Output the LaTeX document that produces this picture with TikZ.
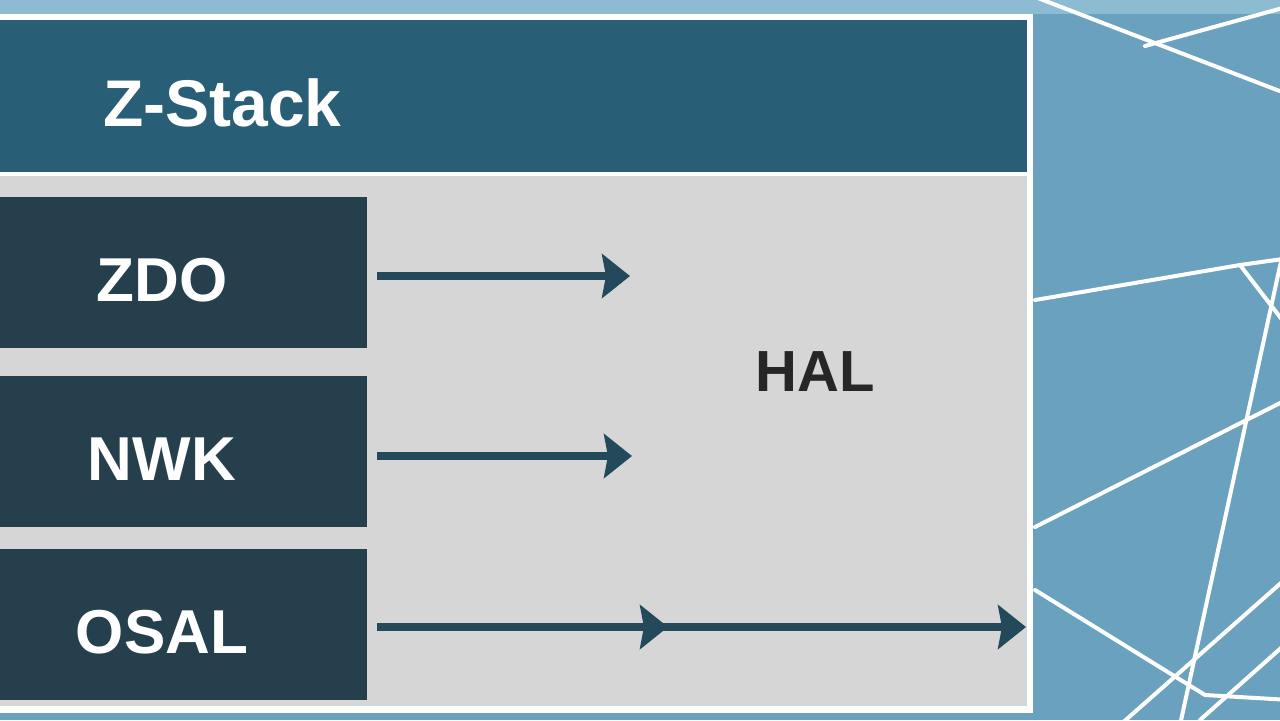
\documentclass[tikz,border=0pt]{standalone}
\usepackage{fontspec}
\setmainfont{Liberation Sans}
\usepackage{tikz}
\usetikzlibrary{arrows.meta,positioning}
\definecolor{skyblue}{HTML}{6AA1BE}
\definecolor{skytop}{HTML}{8DBBD1}
\definecolor{headblue}{HTML}{285E76}
\definecolor{layerblue}{HTML}{263F4C}
\definecolor{arrowblue}{HTML}{24495B}
\definecolor{panelgray}{HTML}{D6D6D6}
\tikzset{layer/.style={fill=layerblue,text=white,inner sep=0pt,
                       minimum width=205pt,minimum height=75.5pt,
                       font=\fontsize{31}{34}\selectfont\bfseries}}
\tikzset{net/.style={white,line width=2pt,line cap=round}}
% text sits a little below the middle of each layer box
\newcommand{\lowered}[1]{\raisebox{-14.5pt}[0pt][0pt]{#1}}

\begin{document}
\begin{tikzpicture}[x=0.5pt,y=-0.5pt,
      % styles for clarity
      flow/.style ={arrowblue,line width=4pt,
                    -{Stealth[length=14pt,width=22pt,inset=2pt]}},
      title/.style={text=white,font=\fontsize{33}{36}\selectfont\bfseries},
      hal/.style  ={text=black!85,font=\fontsize{29}{32}\selectfont\bfseries}
    ]
    \useasboundingbox (0,0) rectangle (1280,720);
    \clip (0,0) rectangle (1280,720);

    % sky background with the network lines
    \fill[skyblue] (0,0) rectangle (1280,720);
    \fill[skytop] (0,0) rectangle (1280,14);
    \draw[net] (1030,-5) -- (1290,95);
    \draw[net] (1145,46) -- (1290,6);
    \draw[net] (1035,300) -- (1240,265) -- (1290,258);
    \draw[net] (1240,265) -- (1290,330);
    \draw[net] (1180,725) -- (1290,220);
    \draw[net] (1035,527) -- (1290,398);
    \draw[net] (1035,590) -- (1205,695) -- (1290,700);
    \draw[net] (1200,720) -- (1290,640);
    \draw[net] (1120,725) -- (1290,575);

    % panel: white frame, header bar and gray body
    \fill[white] (-10,14) rectangle (1033,713);
    \fill[headblue] (-10,20) rectangle (1027,172);
    \fill[panelgray] (-10,176) rectangle (1027,706);
    \node[title,anchor=west] (zstack) at (96,103) {Z-Stack};

    % stack layers (boxes run off the left edge)
    \node[layer] (zdo)  at (162,272.5) {\lowered{ZDO}};
    \node[layer] (nwk)  at (162,451.5) {\lowered{NWK}};
    \node[layer] (osal) at (162,624.5) {\lowered{OSAL}};
    \node[hal] (hal) at (815,372) {HAL};

    % arrow ends
    \coordinate (zdoend)  at (630,276);
    \coordinate (nwkend)  at (632,456);
    \coordinate (osalmid) at (668,627);
    \coordinate (osalgo)  at (658,627);
    \coordinate (osalend) at (1026,627);

    \draw[flow] ([xshift=5pt]zdo.east |- zdoend) -- (zdoend);
    \draw[flow] ([xshift=5pt]nwk.east |- nwkend) -- (nwkend);
    \draw[flow] ([xshift=5pt]osal.east |- osalmid) -- (osalmid);
    \draw[flow] (osalgo) -- (osalend);
  \end{tikzpicture}
\end{document}
